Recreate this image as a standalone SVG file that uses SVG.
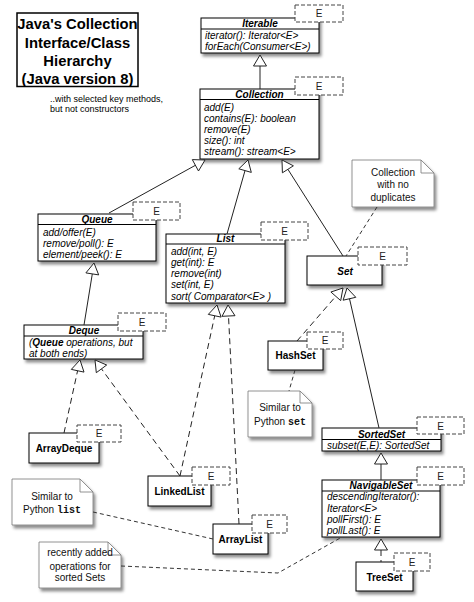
<svg xmlns="http://www.w3.org/2000/svg" width="474" height="602" viewBox="0 0 474 602">
<defs>
<filter id="sh" x="-10%" y="-10%" width="130%" height="140%">
<feDropShadow dx="2" dy="3" stdDeviation="1.5" flood-color="#000" flood-opacity="0.45"/>
</filter>
</defs>
<style>
text{font-family:"Liberation Sans",Arial,sans-serif;fill:#000}
.box{fill:#fff;stroke:#000;stroke-width:1;filter:url(#sh)}
.div{stroke:#000;stroke-width:1}
.hdr{font-size:10px;font-weight:bold;font-style:italic;text-anchor:middle}
.cls{font-size:10px;font-weight:bold;text-anchor:middle}
.m{font-size:10px;font-style:italic}
.eb{fill:#fff;stroke:#444;stroke-width:1;stroke-dasharray:4,2}
.et{font-size:10px;text-anchor:middle;fill:#222}
.note{fill:#fff;stroke:#777;stroke-width:0.8;filter:url(#sh)}
.ear{fill:none;stroke:#777;stroke-width:0.8}
.nt{font-size:10px;text-anchor:middle;fill:#111}
.mono{font-family:"Liberation Mono","Courier New",monospace;font-weight:bold}
.ln{fill:none;stroke:#222;stroke-width:1}
.dl{fill:none;stroke:#222;stroke-width:1;stroke-dasharray:6,4}
.nl{fill:none;stroke:#333;stroke-width:1;stroke-dasharray:4,3}
.tri{fill:#fff;stroke:#222;stroke-width:1}
</style>
<rect width="474" height="602" fill="#fff"/>

<g id="title">
<rect x="17" y="13" width="121" height="73.5" fill="#fff" stroke="#000" stroke-width="1.5"/>
<text x="77.5" y="29" style="font-size:14.8px;font-weight:bold" text-anchor="middle">Java's Collection</text>
<text x="77.5" y="47.5" style="font-size:14.8px;font-weight:bold" text-anchor="middle">Interface/Class</text>
<text x="77.5" y="66" style="font-size:14.8px;font-weight:bold" text-anchor="middle">Hierarchy</text>
<text x="77.5" y="84" style="font-size:14.8px;font-weight:bold" text-anchor="middle">(Java version 8)</text>
<text x="50" y="102" style="font-size:9px">..with selected key methods,</text>
<text x="50" y="112" style="font-size:9px">but not constructors</text>
</g>

<g id="Iterable">
<rect class="box" x="201" y="18" width="118" height="35"/>
<line class="div" x1="201" y1="29" x2="319" y2="29"/>
<text class="hdr" x="260" y="27">Iterable</text>
<text class="m" x="205" y="38.5">iterator(): Iterator&lt;E&gt;</text>
<text class="m" x="205" y="49.5">forEach(Consumer&lt;E&gt;)</text>
<rect class="eb" x="295" y="5" width="48" height="17"/>
<text class="et" x="319" y="17">E</text>
</g>

<g id="Collection">
<rect class="box" x="200" y="89" width="119" height="70"/>
<line class="div" x1="200" y1="99.5" x2="319" y2="99.5"/>
<text class="hdr" x="259.5" y="97.5">Collection</text>
<text class="m" x="204" y="110.5">add(E)</text>
<text class="m" x="204" y="121.6">contains(E): boolean</text>
<text class="m" x="204" y="132.7">remove(E)</text>
<text class="m" x="204" y="143.8">size(): int</text>
<text class="m" x="204" y="154.9">stream(): stream&lt;E&gt;</text>
<rect class="eb" x="295" y="77" width="48" height="18"/>
<text class="et" x="319" y="89.5">E</text>
</g>

<g id="Queue">
<rect class="box" x="38" y="214" width="118" height="47"/>
<line class="div" x1="38" y1="224.5" x2="156" y2="224.5"/>
<text class="hdr" x="97" y="223">Queue</text>
<text class="m" x="43" y="235.5">add/offer(E)</text>
<text class="m" x="43" y="246.5">remove/poll(): E</text>
<text class="m" x="43" y="257.5">element/peek(): E</text>
<rect class="eb" x="133" y="202" width="47" height="18"/>
<text class="et" x="156.5" y="214.5">E</text>
</g>

<g id="List">
<rect class="box" x="166" y="234" width="119" height="69"/>
<line class="div" x1="166" y1="244" x2="285" y2="244"/>
<text class="hdr" x="225.5" y="242">List</text>
<text class="m" x="171" y="254.5">add(int, E)</text>
<text class="m" x="171" y="265.8">get(int): E</text>
<text class="m" x="171" y="277.1">remove(int)</text>
<text class="m" x="171" y="288.4">set(int, E)</text>
<text class="m" x="171" y="299.7">sort( Comparator&lt;E&gt; )</text>
<rect class="eb" x="261" y="222" width="47" height="18"/>
<text class="et" x="284.5" y="234.5">E</text>
</g>

<g id="Set">
<rect class="box" x="307" y="256" width="75" height="29"/>
<text class="hdr" x="345" y="274.5">Set</text>
<rect class="eb" x="358" y="247" width="49" height="18"/>
<text class="et" x="382.5" y="259.5">E</text>
</g>

<g id="note-set">
<path class="note" d="M352,160 H421 L434,173 V207 H352 Z"/>
<path class="ear" d="M421,160 V173 H434"/>
<text class="nt" x="393" y="175.5">Collection</text>
<text class="nt" x="393" y="188">with no</text>
<text class="nt" x="393" y="200.5">duplicates</text>
</g>

<g id="Deque">
<rect class="box" x="24" y="325" width="119" height="34"/>
<line class="div" x1="24" y1="336" x2="143" y2="336"/>
<text class="hdr" x="84" y="334">Deque</text>
<text class="m" x="29" y="345.5">(<tspan font-weight="bold">Queue</tspan> operations, but</text>
<text class="m" x="29" y="356.5">at both ends)</text>
<rect class="eb" x="118" y="313" width="48" height="18"/>
<text class="et" x="142" y="325.5">E</text>
</g>

<g id="ArrayDeque">
<rect class="box" x="29" y="433" width="70" height="30"/>
<text class="cls" x="64" y="451.5">ArrayDeque</text>
<rect class="eb" x="77" y="425" width="44" height="17"/>
<text class="et" x="99" y="437">E</text>
</g>

<g id="LinkedList">
<rect class="box" x="148" y="476" width="63" height="30"/>
<text class="cls" x="179.5" y="495">LinkedList</text>
<rect class="eb" x="192" y="467" width="38" height="18"/>
<text class="et" x="211" y="479.5">E</text>
</g>

<g id="ArrayList">
<rect class="box" x="213" y="524" width="55" height="30"/>
<text class="cls" x="240.5" y="543">ArrayList</text>
<rect class="eb" x="252" y="515" width="35" height="18"/>
<text class="et" x="269.5" y="527.5">E</text>
</g>

<g id="HashSet">
<rect class="box" x="268" y="341" width="55" height="29"/>
<text class="cls" x="295.5" y="358.5">HashSet</text>
<rect class="eb" x="307" y="332" width="36" height="17"/>
<text class="et" x="325" y="344">E</text>
</g>

<g id="note-hashset">
<path class="note" d="M248,391 H300 L312,403 V437 H248 Z"/>
<path class="ear" d="M300,391 V403 H312"/>
<text class="nt" x="280" y="411">Similar to</text>
<text class="nt" x="280" y="424.5">Python <tspan class="mono">set</tspan></text>
</g>

<g id="SortedSet">
<rect class="box" x="322" y="428" width="119" height="23"/>
<line class="div" x1="322" y1="439.5" x2="441" y2="439.5"/>
<text class="hdr" x="381.5" y="437.5">SortedSet</text>
<text class="m" x="327" y="448.5">subset(E,E): SortedSet</text>
<rect class="eb" x="417" y="417" width="47" height="17"/>
<text class="et" x="440.5" y="429.5">E</text>
</g>

<g id="NavigableSet">
<rect class="box" x="322" y="480" width="118" height="57"/>
<line class="div" x1="322" y1="491" x2="440" y2="491"/>
<text class="hdr" x="381" y="489">NavigableSet</text>
<text class="m" x="327" y="500">descendingIterator():</text>
<text class="m" x="327" y="511.5">Iterator&lt;E&gt;</text>
<text class="m" x="327" y="522.5">pollFirst(): E</text>
<text class="m" x="327" y="533.5">pollLast(): E</text>
<rect class="eb" x="417" y="467" width="47" height="18"/>
<text class="et" x="440.5" y="479.5">E</text>
</g>

<g id="TreeSet">
<rect class="box" x="356" y="562" width="57" height="29"/>
<text class="cls" x="384.5" y="580.5">TreeSet</text>
<rect class="eb" x="394" y="553" width="36" height="18"/>
<text class="et" x="412" y="565.5">E</text>
</g>

<g id="note-list">
<path class="note" d="M12,479 H80 L93,492 V525 H12 Z"/>
<path class="ear" d="M80,479 V492 H93"/>
<text class="nt" x="52" y="500">Similar to</text>
<text class="nt" x="52" y="513">Python <tspan class="mono">list</tspan></text>
</g>

<g id="note-sorted">
<path class="note" d="M39,542 H108 L121,555 V588 H39 Z"/>
<path class="ear" d="M108,542 V555 H121"/>
<text class="nt" x="80" y="556">recently added</text>
<text class="nt" x="80" y="569.5">operations for</text>
<text class="nt" x="80" y="581">sorted Sets</text>
</g>

<g id="connectors">
<line class="ln" x1="260" y1="66" x2="260" y2="89"/>
<polygon class="tri" points="260,55 253.5,66 266.5,66"/>

<line class="ln" x1="109" y1="213" x2="195.4" y2="165.3"/>
<polygon class="tri" points="205,160 198.5,171 192.3,159.6"/>

<line class="ln" x1="227" y1="234" x2="245" y2="170.6"/>
<polygon class="tri" points="248,160 251.3,172.4 238.8,168.8"/>

<line class="ln" x1="343" y1="256" x2="287.9" y2="169.3"/>
<polygon class="tri" points="282,160 293.4,165.8 282.4,172.8"/>

<line class="ln" x1="84" y1="325" x2="92.3" y2="273.9"/>
<polygon class="tri" points="94,263 98.7,274.9 85.9,272.9"/>

<line class="dl" x1="64" y1="433" x2="77.6" y2="370.7"/>
<polygon class="tri" points="80,360 84,372.1 71.3,369.4"/>

<line class="dl" x1="180" y1="476" x2="101.5" y2="368.9"/>
<polygon class="tri" points="95,360 106.7,365 96.3,372.7"/>

<line class="dl" x1="180" y1="476" x2="214.7" y2="315.8"/>
<polygon class="tri" points="217,305 221.1,317.1 208.3,314.4"/>

<line class="dl" x1="239" y1="524" x2="228.5" y2="316"/>
<polygon class="tri" points="228,305 235,315.7 222,316.3"/>

<line class="dl" x1="297" y1="341" x2="335.8" y2="296.3"/>
<polygon class="tri" points="343,288 340.7,300.6 330.9,292"/>

<line class="ln" x1="379" y1="428" x2="349.5" y2="298.7"/>
<polygon class="tri" points="347,288 355.8,297.3 343.1,300.2"/>

<line class="ln" x1="381" y1="464" x2="381" y2="480"/>
<polygon class="tri" points="381,453 374.5,464 387.5,464"/>

<line class="dl" x1="381" y1="550" x2="381" y2="562"/>
<polygon class="tri" points="381,539 374.5,550 387.5,550"/>

<line class="nl" x1="377" y1="207" x2="346" y2="256"/>
<line class="nl" x1="295" y1="370" x2="289" y2="391"/>
<line class="nl" x1="93" y1="512" x2="213" y2="539"/>
<polyline class="nl" points="121,566 278,573 342,537"/>
</g>
</svg>
